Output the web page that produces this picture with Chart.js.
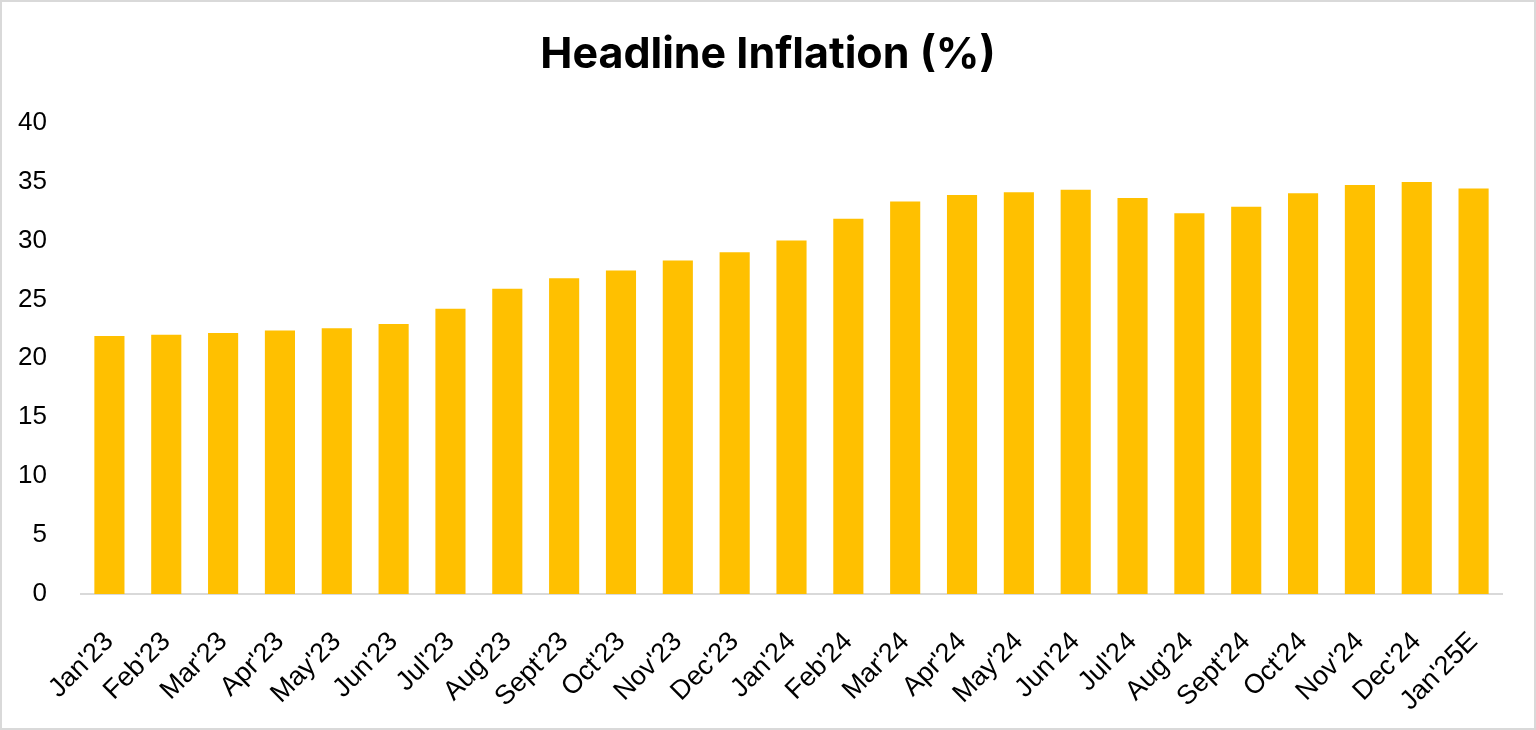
<!DOCTYPE html>
<html>
<head>
<meta charset="utf-8">
<script src="https://cdn.jsdelivr.net/npm/chart.js@4.4.1/dist/chart.umd.min.js"></script>
<style>
  html, body { margin: 0; padding: 0; background: #fff; }
  .frame { width: 1536px; height: 730px; box-sizing: border-box; border: 2px solid #d9d9d9; position: relative; }
  canvas { position: absolute; left: 0; top: 0; }
</style>
</head>
<body>
<div class="frame"><canvas id="grafico" width="1532" height="726"></canvas></div>
<script>
// datos
const meses = ["Jan'23", "Feb'23", "Mar'23", "Apr'23", "May'23", "Jun'23", "Jul'23", "Aug'23", "Sept'23", "Oct'23", "Nov'23", "Dec'23",
  "Jan'24", "Feb'24", "Mar'24", "Apr'24", "May'24", "Jun'24", "Jul'24", "Aug'24", "Sept'24", "Oct'24", "Nov'24", "Dec'24", "Jan'25E"];
const inflacion = [21.9, 22.0, 22.15, 22.35, 22.55, 22.9, 24.2, 25.9, 26.8, 27.45, 28.3, 29.0,
  30.0, 31.85, 33.3, 33.85, 34.1, 34.3, 33.6, 32.3, 32.85, 34.0, 34.7, 34.95, 34.4];
const ticksY = [0, 5, 10, 15, 20, 25, 30, 35, 40];

const fuenteY = { family: "'Liberation Sans', Arial, sans-serif", size: 26 };
const fuenteX = { family: "'Liberation Sans', Arial, sans-serif", size: 27 };

new Chart(document.getElementById('grafico'), {
  type: 'bar',
  data: {
    labels: meses,
    datasets: [{ data: inflacion, backgroundColor: '#FFC000', barPercentage: 0.53, categoryPercentage: 1 }]
  },
  options: {
    responsive: false,
    animation: false,
    plugins: {
      legend: { display: false },
      tooltip: { enabled: false },
      title: {
        display: true,
        text: 'Headline Inflation (%)',
        color: '#000',
        font: { family: "Inter, 'Liberation Sans', sans-serif", size: 43, weight: 'bold' },
        padding: { top: 27, bottom: 42 }
      }
    },
    scales: {
      x: {
        grid: { display: false },
        border: { display: true, color: '#d9d9d9', width: 2 },
        ticks: { color: '#000', font: fuenteX, minRotation: 45, maxRotation: 45, padding: 24 },
        afterFit: (s) => { s.height = 134; }
      },
      y: {
        min: 0, max: 40,
        grid: { display: false },
        border: { display: false },
        afterBuildTicks: (s) => { s.ticks = ticksY.map(v => ({ value: v })); },
        ticks: { color: '#000', font: fuenteY, padding: 26 },
        afterFit: (s) => { s.width = 79; }
      },
      // margen derecho vacio, asi el titulo queda centrado en todo el lienzo
      margen: {
        position: 'right',
        min: 0, max: 40,
        grid: { display: false },
        border: { display: false },
        ticks: { display: false },
        afterFit: (s) => { s.width = 32; }
      }
    }
  }
});
</script>
</body>
</html>
